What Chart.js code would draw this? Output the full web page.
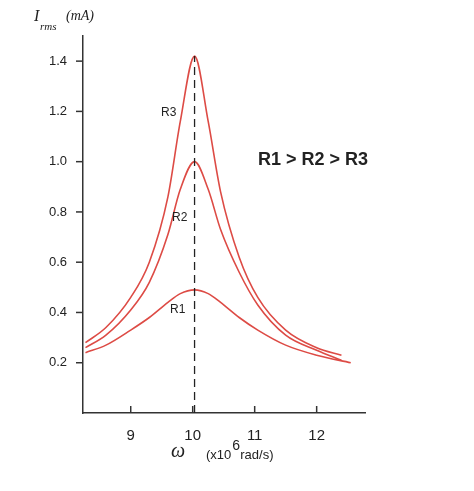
<!DOCTYPE html>
<html><head><meta charset="utf-8">
<script src="https://cdn.jsdelivr.net/npm/chart.js@4/dist/chart.umd.min.js"></script>
<style>body{margin:0;background:#fff}#wrap{width:474px;height:491px}</style>
</head><body><div id="wrap"><canvas id="c"></canvas></div>
<script>
const omega = [8.27, 8.6, 9, 9.3, 9.6, 9.8, 10.03, 10.25, 10.45, 10.75, 11.05, 11.5, 12, 12.4];
const omegaR1 = [8.27, 8.6, 9, 9.3, 9.6, 9.8, 10.03, 10.25, 10.45, 10.75, 11.05, 11.5, 12, 12.55];
const r3 = [0.28, 0.34, 0.46, 0.6, 0.86, 1.16, 1.42, 1.16, 0.88, 0.62, 0.46, 0.33, 0.26, 0.23];
const r2 = [0.26, 0.31, 0.41, 0.52, 0.71, 0.89, 1.0, 0.89, 0.73, 0.56, 0.43, 0.31, 0.25, 0.21];
const r1 = [0.24, 0.27, 0.33, 0.38, 0.44, 0.475, 0.49, 0.475, 0.44, 0.38, 0.33, 0.27, 0.23, 0.20];
const xTicks = [9, 10, 11, 12];
const yTicks = [0.2, 0.4, 0.6, 0.8, 1.0, 1.2, 1.4];
const peak = 10.03;

const red = "#dd4b45";
const pts = (xs, ys) => xs.map((x, i) => ({ x, y: ys[i] }));
const ds = (data) => ({ data, borderColor: red, borderWidth: 1.6, pointRadius: 0, cubicInterpolationMode: "monotone", fill: false });

const extras = {
  id: "extras",
  afterDraw(chart) {
    const { ctx, scales: { x, y }, chartArea: a } = chart;
    ctx.save();
    ctx.strokeStyle = "#333"; ctx.lineWidth = 1.5;
    xTicks.forEach(v => { const px = x.getPixelForValue(v); ctx.beginPath(); ctx.moveTo(px, a.bottom); ctx.lineTo(px, a.bottom - 7); ctx.stroke(); });
    yTicks.forEach(v => { const py = y.getPixelForValue(v); ctx.beginPath(); ctx.moveTo(a.left, py); ctx.lineTo(a.left - 7, py); ctx.stroke(); });
    // dashed resonance line
    ctx.setLineDash([8, 5]); ctx.lineWidth = 1.3; ctx.strokeStyle = "#222";
    const px = x.getPixelForValue(peak);
    ctx.beginPath(); ctx.moveTo(px, a.bottom); ctx.lineTo(px, y.getPixelForValue(1.42)); ctx.stroke();
    ctx.setLineDash([]);
    ctx.fillStyle = "#222"; ctx.textBaseline = "middle";
    ctx.font = "12px Arial, 'Liberation Sans'";
    ctx.fillText("R3", 161, 113); ctx.fillText("R2", 172, 218); ctx.fillText("R1", 170, 310);
    ctx.font = "bold 18px Arial, 'Liberation Sans'";
    ctx.fillText("R1 > R2 > R3", 258, 160);
    ctx.font = "italic 16px 'Liberation Serif', serif";
    ctx.fillText("I", 34, 17);
    ctx.font = "italic 11px 'Liberation Serif', serif";
    ctx.fillText("rms", 40, 27);
    ctx.font = "italic 14px 'Liberation Serif', serif";
    ctx.fillText("(mA)", 66, 16);
    ctx.font = "italic 20px 'Liberation Serif', serif";
    ctx.fillText("ω", 171, 452);
    ctx.font = "13px Arial, 'Liberation Sans'";
    ctx.fillText("(x10", 206, 455);
    const w = ctx.measureText("(x10").width;
    ctx.fillText("rad/s)", 206 + w + 9, 455);
    ctx.font = "14px Arial, 'Liberation Sans'";
    ctx.fillText("6", 206 + w + 1, 446);
    ctx.restore();
  }
};

new Chart(document.getElementById("c"), {
  type: "line",
  data: { datasets: [ds(pts(omega, r3)), ds(pts(omega, r2)), ds(pts(omegaR1, r1))] },
  options: {
    responsive: true, maintainAspectRatio: false, animation: false,
    layout: { padding: { top: 36, right: 109, left: 0, bottom: 0 } },
    plugins: { legend: { display: false }, tooltip: { enabled: false } },
    scales: {
      x: {
        type: "linear", min: 8.23, max: 12.78,
        afterBuildTicks: s => { s.ticks = xTicks.map(v => ({ value: v })); },
        afterFit: s => { s.height = 78; },
        grid: { display: false, drawTicks: false },
        border: { color: "#333", width: 1.5 },
        ticks: { color: "#222", padding: 14, font: { size: 15, family: "Arial, 'Liberation Sans'" } }
      },
      y: {
        min: 0, max: 1.5,
        afterBuildTicks: s => { s.ticks = yTicks.map(v => ({ value: v })); },
        afterFit: s => { s.width = 83; },
        grid: { display: false, drawTicks: false },
        border: { color: "#333", width: 1.5 },
        ticks: { color: "#222", padding: 16, font: { size: 13, family: "Arial, 'Liberation Sans'" }, callback: v => v.toFixed(1) }
      }
    }
  },
  plugins: [extras]
});
</script></body></html>
